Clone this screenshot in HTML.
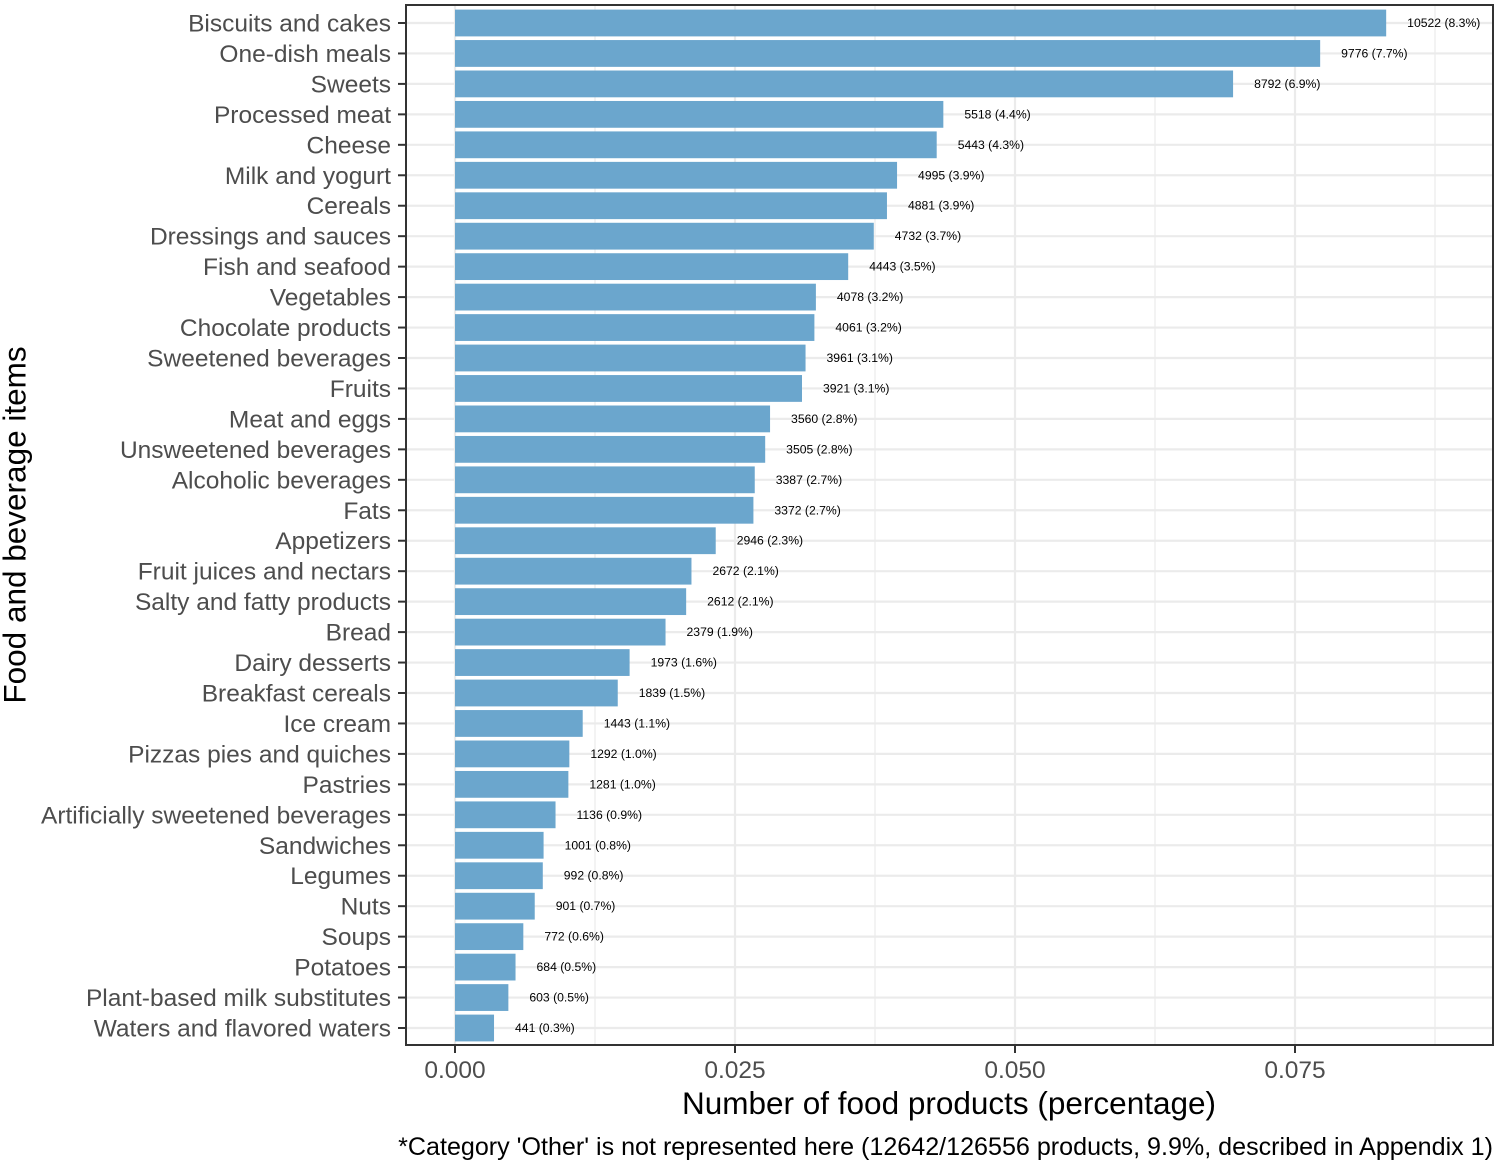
<!DOCTYPE html>
<html><head><meta charset="utf-8"><style>
body{margin:0;background:#fff;font-family:"Liberation Sans",Arial,sans-serif}
</style></head><body>
<svg id="chart" width="1496" height="1164" xmlns="http://www.w3.org/2000/svg">
<g id="grid"></g><g id="bars"></g><g id="labels"></g><g id="axes"></g>
<text x="17" y="525" transform="rotate(-90 17 525)" text-anchor="middle" font-size="31.5" fill="#000" dominant-baseline="middle">Food and beverage items</text>
<text x="949" y="1114" text-anchor="middle" font-size="31.5" fill="#000">Number of food products (percentage)</text>
<text x="1493" y="1155" text-anchor="end" font-size="25.1" fill="#000">*Category 'Other' is not represented here (12642/126556 products, 9.9%, described in Appendix 1)</text>
</svg>
<script>
const categories=["Biscuits and cakes","One-dish meals","Sweets","Processed meat","Cheese","Milk and yogurt","Cereals","Dressings and sauces","Fish and seafood","Vegetables","Chocolate products","Sweetened beverages","Fruits","Meat and eggs","Unsweetened beverages","Alcoholic beverages","Fats","Appetizers","Fruit juices and nectars","Salty and fatty products","Bread","Dairy desserts","Breakfast cereals","Ice cream","Pizzas pies and quiches","Pastries","Artificially sweetened beverages","Sandwiches","Legumes","Nuts","Soups","Potatoes","Plant-based milk substitutes","Waters and flavored waters"];
const counts=[10522,9776,8792,5518,5443,4995,4881,4732,4443,4078,4061,3961,3921,3560,3505,3387,3372,2946,2672,2612,2379,1973,1839,1443,1292,1281,1136,1001,992,901,772,684,603,441];
const pctLabels=["8.3%","7.7%","6.9%","4.4%","4.3%","3.9%","3.9%","3.7%","3.5%","3.2%","3.2%","3.1%","3.1%","2.8%","2.8%","2.7%","2.7%","2.3%","2.1%","2.1%","1.9%","1.6%","1.5%","1.1%","1.0%","1.0%","0.9%","0.8%","0.8%","0.7%","0.6%","0.5%","0.5%","0.3%"];
const total=126556;
const xTicks=[0,0.025,0.05,0.075];
const xTickLabels=["0.000","0.025","0.050","0.075"];
const NS="http://www.w3.org/2000/svg";
const L=406,R=1493,T=5,B=1045;
const x=v=>455+v*11200;
const n=categories.length;
const step=(1028-23)/(n-1);
const y=i=>23+i*step;
function mk(tag,attrs,parent){const e=document.createElementNS(NS,tag);for(const k in attrs)e.setAttribute(k,attrs[k]);document.getElementById(parent).appendChild(e);return e;}
for(let k=0;k<8;k++){const v=k*0.0125;const xx=x(v);if(xx>R)break;
const g=mk('line',{x1:xx,x2:xx,y1:T,y2:B,stroke:'#ebebeb','stroke-width':k%2?1.2:2.2},'grid');

}
categories.forEach((c,i)=>{
const gl=mk('line',{x1:L,x2:R,y1:y(i),y2:y(i),stroke:'#ebebeb','stroke-width':2.2},'grid');


const v=counts[i]/total;const h=step*0.88;
const b=mk('rect',{x:x(0),y:y(i)-h/2,width:x(v)-x(0),height:h,fill:'#6ba6cd'},'bars');


const t=mk('text',{x:x(v)+21,y:y(i)+4,'font-size':12.2,fill:'#000'},'labels');
t.textContent=counts[i]+' ('+pctLabels[i]+')';


const cl=mk('text',{x:391,y:y(i)+8.5,'font-size':24.5,fill:'#4d4d4d','text-anchor':'end'},'axes');
cl.textContent=c;


const tk=mk('line',{x1:398,x2:406,y1:y(i),y2:y(i),stroke:'#333','stroke-width':2},'axes');


});
xTicks.forEach((v,i)=>{
const tk=mk('line',{x1:x(v),x2:x(v),y1:B,y2:B+8,stroke:'#333','stroke-width':2},'axes');


const t=mk('text',{x:x(v),y:B+33,'font-size':24.5,fill:'#4d4d4d','text-anchor':'middle'},'axes');
t.textContent=xTickLabels[i];


});
const p=mk('rect',{x:L,y:T,width:R-L,height:B-T,fill:'none',stroke:'#333','stroke-width':2},'axes');


</script>
</body></html>
